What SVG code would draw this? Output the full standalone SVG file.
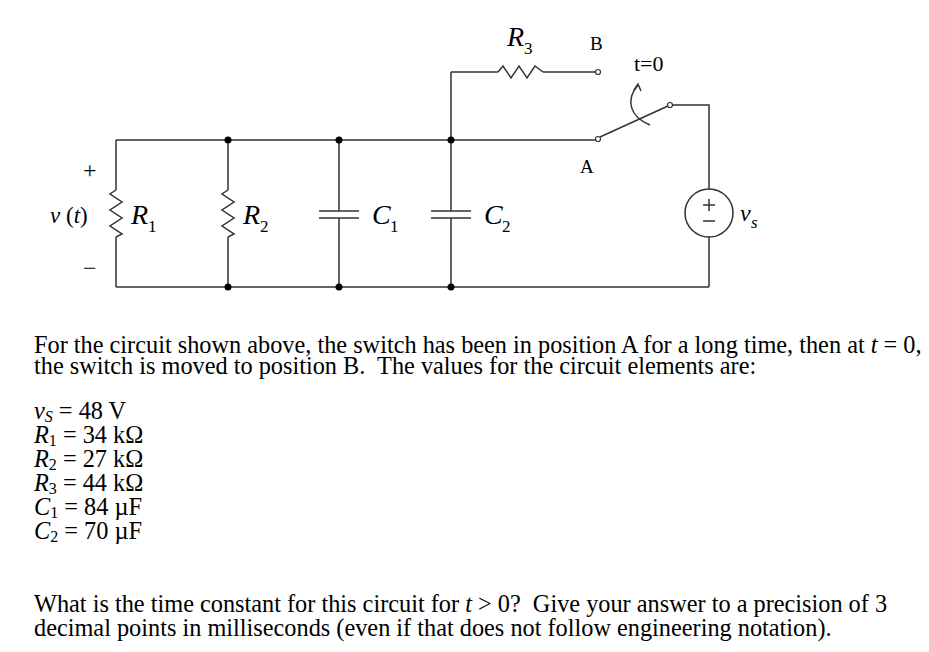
<svg xmlns="http://www.w3.org/2000/svg" width="929" height="652" viewBox="0 0 929 652">
<style>
.w{fill:none;stroke:#333;stroke-width:1.5}
.d{fill:#000}
.o{fill:#fff;stroke:#333;stroke-width:1.2}
text{font-family:"Liberation Serif",serif;fill:#000;white-space:pre}
.l{font-size:28px;font-style:italic}
.t{font-size:24.3px}
.s{font-size:17px}
</style>
<rect width="929" height="652" fill="#fff"/>
<g id="connectors">
<path class="w" d="M116,140H451M116,287H709M116,140V190M116,237V287M228,140V190M228,237V287M339,140V211M339,218V287M451,72V211M451,218V287M451,72H498M543,72H596M451,140H596M672,105H709V189M709,237V287"/>
<path class="w" d="M600,137L668,106"/>
<path class="w" d="M650,125C630,117 625,100 638,85"/>
<path class="w" d="M634,90L638,84L641,91"/>
</g>
<g id="R1"><path class="w" d="M116,190l-6,4l12,8l-12,8l12,8l-12,8l12,8l-6,3"/><text class="l" x="131" y="224">R</text><text class="s" x="148" y="232">1</text></g>
<g id="R2"><path class="w" d="M228,190l-6,4l12,8l-12,8l12,8l-12,8l12,8l-6,3"/><text class="l" x="243" y="224">R</text><text class="s" x="260" y="232">2</text></g>
<g id="C1"><path class="w" d="M319,211H359M319,218H359"/><text class="l" x="372" y="224">C</text><text class="s" x="390" y="232">1</text></g>
<g id="C2"><path class="w" d="M431,211H471M431,218H471"/><text class="l" x="484" y="224">C</text><text class="s" x="502" y="232">2</text></g>
<g id="R3"><path class="w" d="M498,72l5,-6l8,12l8,-12l8,12l8,-12l8,6"/><text class="l" x="507" y="46">R</text><text class="s" x="524" y="54">3</text></g>
<g id="switch"><circle class="o" cx="598" cy="72" r="2.5"/><circle class="o" cx="598" cy="139" r="2.5"/><circle class="o" cx="670" cy="105" r="2.5"/>
<text x="590" y="50" style="font-size:19px">B</text><text x="580" y="173" style="font-size:19px">A</text><text x="634" y="71" style="font-family:'Liberation Serif',serif;font-size:22px">t=0</text></g>
<g id="vs"><circle cx="709" cy="213" r="24" fill="#fff" stroke="#333" stroke-width="1.5"/><path class="w" d="M703,205h12M709,199v12M703,221h12"/><text class="l" x="740" y="221" style="font-size:24px">v</text><text class="s" x="751" y="228" font-style="italic">s</text></g>
<g id="dots" class="d"><circle cx="228" cy="140" r="3.5"/><circle cx="339" cy="140" r="3.5"/><circle cx="451" cy="140" r="3.5"/><circle cx="228" cy="287" r="3.5"/><circle cx="339" cy="287" r="3.5"/><circle cx="451" cy="287" r="3.5"/></g>
<g id="vt"><text x="83" y="178" style="font-size:24px">+</text><text x="83" y="276" style="font-size:24px">−</text><text x="50" y="223" style="font-size:23px"><tspan font-style="italic">v</tspan> (<tspan font-style="italic">t</tspan>)</text></g>
<g id="text">
<text class="t" x="34" y="353">For the circuit shown above, the switch has been in position A for a long time, then at <tspan font-style="italic">t</tspan> = 0,</text>
<text class="t" x="34" y="374">the switch is moved to position B.  The values for the circuit elements are:</text>
<text class="t" x="34" y="419"><tspan font-style="italic">v</tspan><tspan font-style="italic" font-size="16" dy="3">S</tspan><tspan dy="-3"> = 48 V</tspan></text>
<text class="t" x="34" y="443"><tspan font-style="italic">R</tspan><tspan font-size="16" dy="3">1</tspan><tspan dy="-3"> = 34 kΩ</tspan></text>
<text class="t" x="34" y="467"><tspan font-style="italic">R</tspan><tspan font-size="16" dy="3">2</tspan><tspan dy="-3"> = 27 kΩ</tspan></text>
<text class="t" x="34" y="491"><tspan font-style="italic">R</tspan><tspan font-size="16" dy="3">3</tspan><tspan dy="-3"> = 44 kΩ</tspan></text>
<text class="t" x="34" y="515"><tspan font-style="italic">C</tspan><tspan font-size="16" dy="3">1</tspan><tspan dy="-3"> = 84 µF</tspan></text>
<text class="t" x="34" y="539"><tspan font-style="italic">C</tspan><tspan font-size="16" dy="3">2</tspan><tspan dy="-3"> = 70 µF</tspan></text>
<text class="t" x="34" y="612">What is the time constant for this circuit for <tspan font-style="italic">t</tspan> &gt; 0?  Give your answer to a precision of 3</text>
<text class="t" x="34" y="636">decimal points in milliseconds (even if that does not follow engineering notation).</text>
</g>
</svg>
